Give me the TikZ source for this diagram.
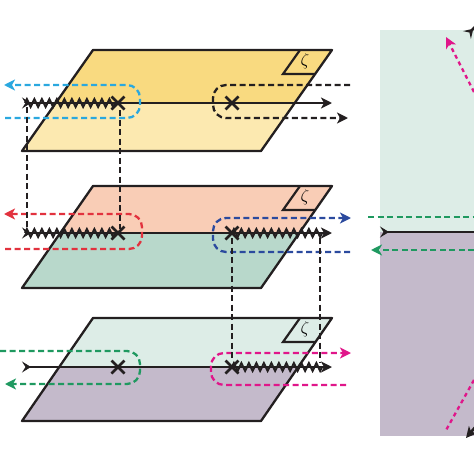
\documentclass[tikz,border=0pt]{standalone}
\usetikzlibrary{arrows.meta,decorations.pathmorphing}
\definecolor{yelA}{HTML}{F9DA80}
\definecolor{yelB}{HTML}{FCE9B0}
\definecolor{salA}{HTML}{F9CDB6}
\definecolor{tealB}{HTML}{B8D8CB}
\definecolor{mintA}{HTML}{DDEDE7}
\definecolor{mauB}{HTML}{C4BACB}
\definecolor{cyanD}{HTML}{2AA8DF}
\definecolor{redD}{HTML}{E2323E}
\definecolor{navyD}{HTML}{2B4A9E}
\definecolor{greenD}{HTML}{1F9960}
\definecolor{magD}{HTML}{E0168A}
\definecolor{inkD}{HTML}{231F20}
\tikzset{
  planeedge/.style={draw=inkD, line width=2.3pt, line join=round},
  mainline/.style={draw=inkD, line width=2.6pt},
  zz/.style={draw=inkD, line width=2pt, decorate, decoration={zigzag, segment length=7.5pt, amplitude=3.8pt}},
  dloop/.style={line width=2.3pt, dash pattern=on 6pt off 3.5pt, rounded corners=13pt},
  cutdash/.style={draw=inkD, line width=2.2pt, dash pattern=on 6pt off 3.5pt},
  crossmark/.style={draw=inkD, line width=2.6pt},
  headtip/.tip={Stealth[length=11pt,width=11pt,inset=3pt]},
  tailtip/.tip={Stealth[reversed,length=9pt,width=11pt,inset=3.5pt]},
  zetabox/.style={draw=inkD, line width=2.2pt}
}
\begin{document}
\begin{tikzpicture}[x=1pt,y=-1pt]
\useasboundingbox (0,0) rectangle (474,474);
% right panel
\fill[mintA] (380,30) rectangle (474,232);
\fill[mauB] (380,232) rectangle (474,436);
% ---------- top plane
\coordinate (tA) at (93,50); \coordinate (tB) at (332,50);
\coordinate (tC) at (261,151); \coordinate (tD) at (22,151);
\coordinate (tL) at (55.7,103); \coordinate (tR) at (294.7,103);
\fill[yelA] (tA) -- (tB) -- (tR) -- (tL) -- cycle;
\fill[yelB] (tL) -- (tR) -- (tC) -- (tD) -- cycle;
\draw[planeedge] (tA) -- (tB) -- (tC) -- (tD) -- cycle;
% ---------- middle plane
\coordinate (mA) at (93,186); \coordinate (mB) at (332,186);
\coordinate (mC) at (261,288); \coordinate (mD) at (22,288);
\coordinate (mL) at (60,233); \coordinate (mR) at (299,233);
\fill[salA] (mA) -- (mB) -- (mR) -- (mL) -- cycle;
\fill[tealB] (mL) -- (mR) -- (mC) -- (mD) -- cycle;
\draw[planeedge] (mA) -- (mB) -- (mC) -- (mD) -- cycle;
% ---------- bottom plane
\coordinate (bA) at (93,318); \coordinate (bB) at (332,318);
\coordinate (bC) at (261,421); \coordinate (bD) at (22,421);
\coordinate (bL) at (58.6,367); \coordinate (bR) at (297.6,367);
\fill[mintA] (bA) -- (bB) -- (bR) -- (bL) -- cycle;
\fill[mauB] (bL) -- (bR) -- (bC) -- (bD) -- cycle;
\draw[planeedge] (bA) -- (bB) -- (bC) -- (bD) -- cycle;
% ---------- zeta boxes
\foreach \T/\nm in {50/za,186/zb,318/zc}{
  \draw[zetabox] (300,\T) -- (283,\T+24) -- (315,\T+24);
  \node[font=\LARGE, inner sep=0pt] (\nm) at (305,\T+11) {$\zeta$};
}
% ---------- main lines
\coordinate (tS) at (22,103); \coordinate (tE) at (332,103);
\coordinate (t1) at (118,103); \coordinate (t2) at (232,103);
\draw[mainline, {tailtip}-{headtip}] (tS) -- (tE);
\draw[zz] (25,103) -- (t1);
\coordinate (mS) at (22,233); \coordinate (mE) at (332,233);
\coordinate (m1) at (118,233); \coordinate (m2) at (232,233);
\draw[mainline, {tailtip}-{headtip}] (mS) -- (mE);
\draw[zz] (25,233) -- (m1);
\draw[zz] (m2) -- (324,233);
\coordinate (bS) at (22,367); \coordinate (bE) at (332,367);
\coordinate (b1) at (118,367); \coordinate (b2) at (232,367);
\draw[mainline, {tailtip}-{headtip}] (bS) -- (bE);
\draw[zz] (b2) -- (324,367);
% crosses
\foreach \p in {t1,t2,m1,m2,b1,b2}{
  \draw[crossmark] (\p) ++(-6.5,-6.5) -- ++(13,13);
  \draw[crossmark] (\p) ++(-6.5,6.5) -- ++(13,-13);
}
% ---------- dashed loops
\draw[dloop, cyanD, -{headtip}] (5,118) -- (140,118) -- (140,85) -- (4,85);
\draw[dloop, inkD, -{headtip}] (350,85) -- (213,85) -- (213,118) -- (348,118);
\draw[dloop, redD, -{headtip}] (5,249) -- (142,249) -- (142,214) -- (4,214);
\draw[dloop, navyD, -{headtip}] (350,252) -- (213,252) -- (213,218) -- (351,218);
\draw[dloop, greenD, -{headtip}] (0,351) -- (140,351) -- (140,384) -- (5,384);
\draw[dloop, magD, -{headtip}] (346,385) -- (211,385) -- (211,353) -- (351,353);
% ---------- vertical cuts
\draw[cutdash] (27,107) -- (27,228);
\draw[cutdash] (120,110) -- (120,229);
\draw[cutdash] (232,238) -- (232,361);
\draw[cutdash] (320,238) -- (320,362);
% ---------- right panel lines
\coordinate (rS) at (380,232); \coordinate (rE) at (474,232);
\draw[mainline, {tailtip}-] (rS) -- (rE);
\draw[line width=2.3pt, dash pattern=on 6pt off 3.5pt, greenD] (368,217) -- (474,217);
\draw[line width=2.3pt, dash pattern=on 6pt off 3.5pt, greenD, -{headtip}] (474,250) -- (371,250);
\draw[line width=2.3pt, dash pattern=on 4pt off 3.5pt, magD, -{headtip}] (474,92) -- (446,37);
\draw[line width=2.3pt, dash pattern=on 4pt off 3.5pt, magD] (474,380) -- (445,432);
\draw[mainline, {tailtip}-] (467,35) -- (476,26);
\draw[mainline, -{headtip}] (477,425) -- (466,438);
\end{tikzpicture}
\end{document}
